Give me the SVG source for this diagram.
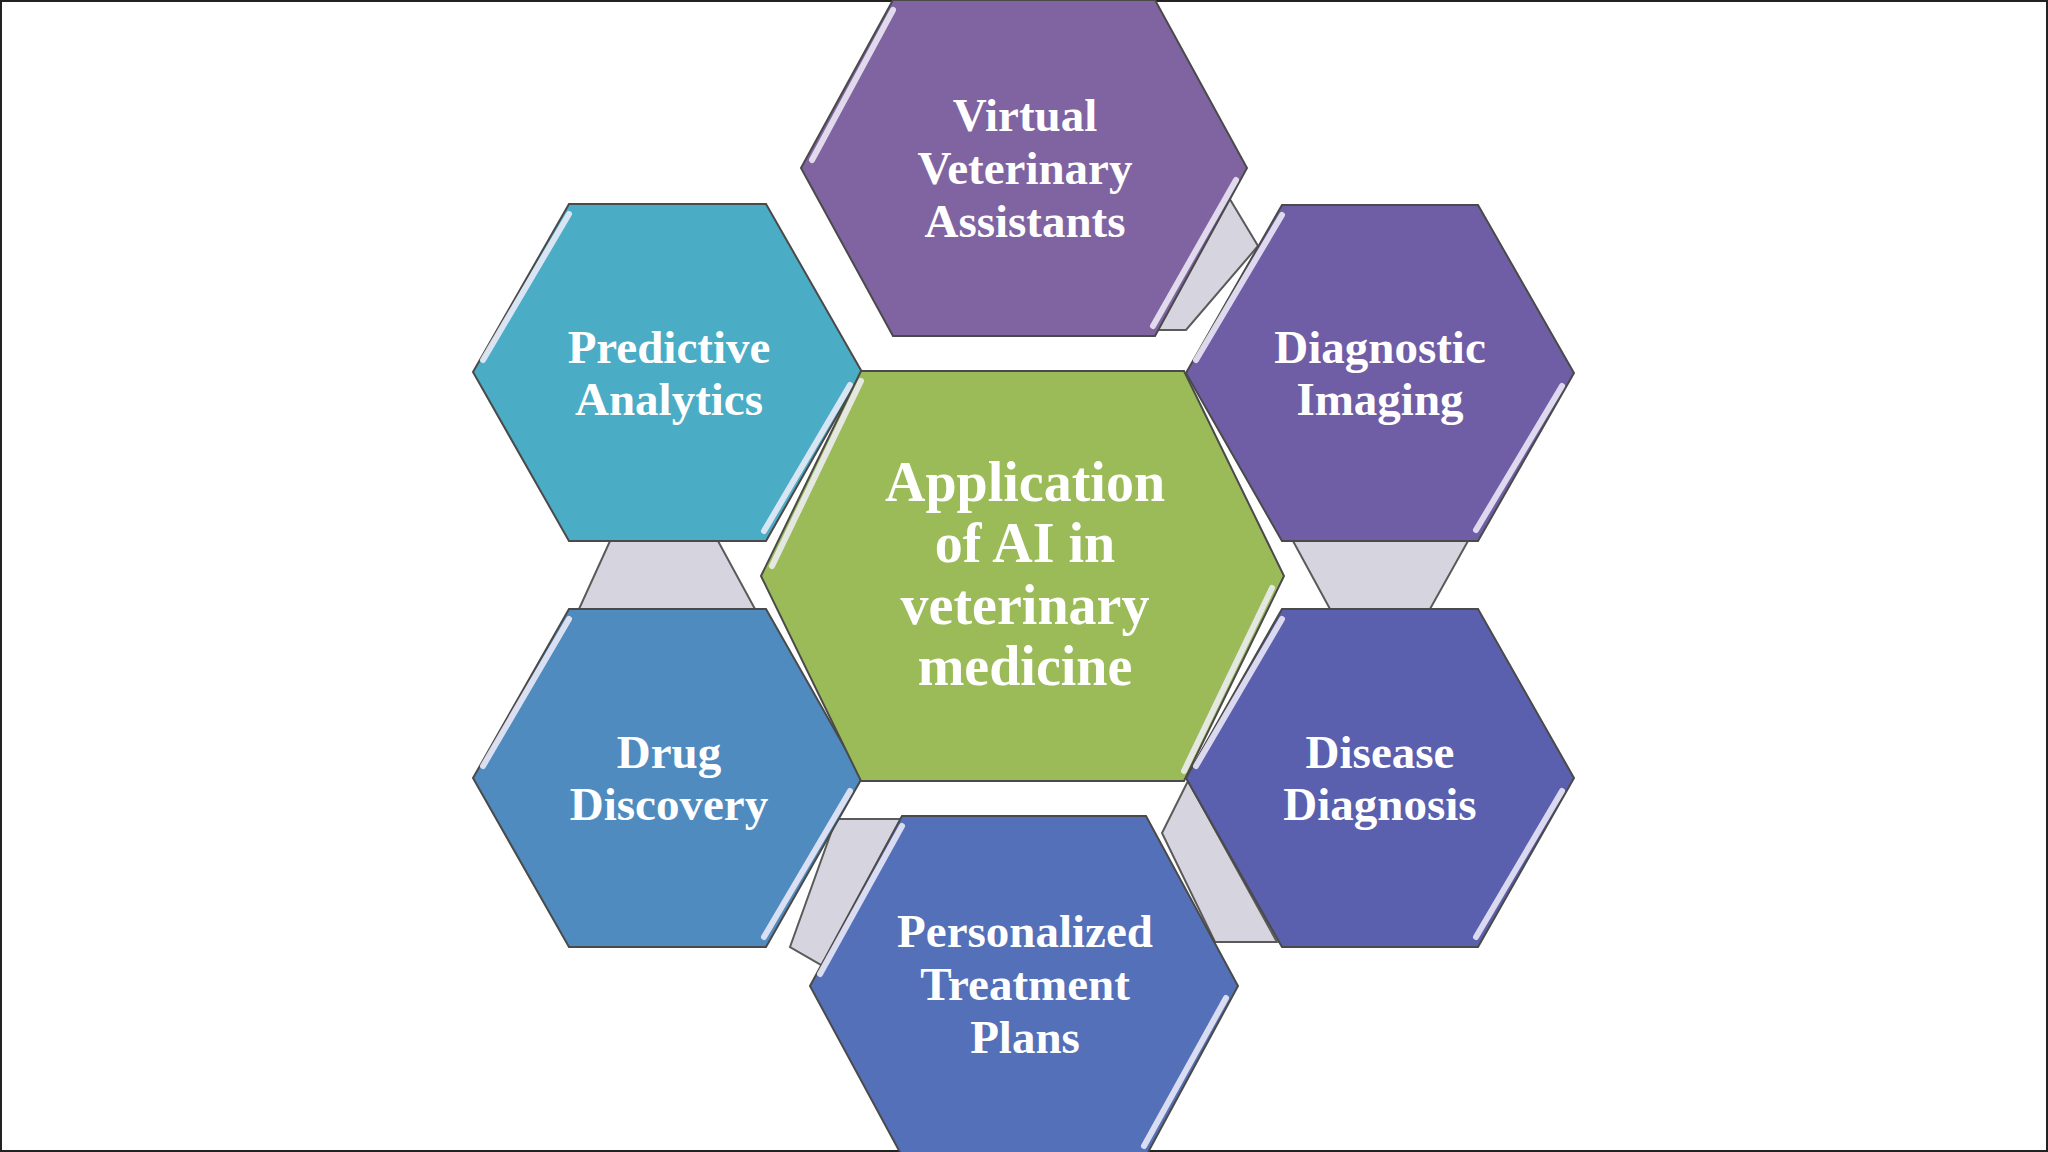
<svg xmlns="http://www.w3.org/2000/svg" width="2048" height="1152" viewBox="0 0 2048 1152">
<style>
.hex{stroke:#4a4a4a;stroke-width:2}
.hl{stroke:#f2eefa;stroke-opacity:0.85;stroke-width:6;stroke-linecap:round;fill:none}
.j{fill:#d6d4de;stroke:#5a5a5a;stroke-width:2}
text{font-family:"Liberation Serif","Times New Roman",serif;font-weight:bold;fill:#fff;text-anchor:middle;font-size:47px}
.c{font-size:56px}
</style>
<rect x="1" y="1" width="2046" height="1150" fill="#fff" stroke="#222" stroke-width="2"/>
<g id="connectors">
<polygon class="j" points="1228,196 1258,246 1186,330 1149,330"/>
<polygon class="j" points="1293,541 1468,541 1430,609 1330,609"/>
<polygon class="j" points="1188,781 1162,833 1215,942 1277,942"/>
<polygon class="j" points="836,819 904,819 823,966 790,947"/>
<polygon class="j" points="610,541 718,541 755,609 579,609"/>
</g>
<g id="virtual">
<polygon class="hex" fill="#8064a2" points="801,168 893,0 1155,0 1247,168 1155,336 893,336"/>
<line class="hl" x1="812" y1="160" x2="893" y2="10"/><line class="hl" x1="1236" y1="180" x2="1153" y2="326"/>
<text x="1025" y="131">Virtual</text><text x="1025" y="184">Veterinary</text><text x="1025" y="237">Assistants</text>
</g>
<g id="diagnostic">
<polygon class="hex" fill="#6f5ea6" points="1186,373 1282,205 1478,205 1574,373 1478,541 1282,541"/>
<line class="hl" x1="1196" y1="360" x2="1282" y2="215"/><line class="hl" x1="1562" y1="386" x2="1476" y2="530"/>
<text x="1380" y="363">Diagnostic</text><text x="1380" y="415">Imaging</text>
</g>
<g id="predictive">
<polygon class="hex" fill="#4bacc6" points="473,372 569,204 766,204 862,372 766,541 569,541"/>
<line class="hl" x1="483" y1="360" x2="569" y2="214"/><line class="hl" x1="850" y1="385" x2="764" y2="531"/>
<text x="669" y="363">Predictive</text><text x="669" y="415">Analytics</text>
</g>
<g id="drug">
<polygon class="hex" fill="#4f8bbf" points="473,778 569,609 766,609 862,778 766,947 569,947"/>
<line class="hl" x1="483" y1="766" x2="569" y2="619"/><line class="hl" x1="850" y1="791" x2="764" y2="937"/>
<text x="669" y="768">Drug</text><text x="669" y="820">Discovery</text>
</g>
<g id="disease">
<polygon class="hex" fill="#5a5fae" points="1186,778 1282,609 1478,609 1574,778 1478,947 1282,947"/>
<line class="hl" x1="1196" y1="766" x2="1282" y2="619"/><line class="hl" x1="1562" y1="791" x2="1476" y2="937"/>
<text x="1380" y="768">Disease</text><text x="1380" y="820">Diagnosis</text>
</g>
<g id="personalized">
<polygon class="hex" fill="#5470b8" points="810,986 902,816 1146,816 1238,986 1146,1156 902,1156"/>
<line class="hl" x1="820" y1="974" x2="902" y2="826"/><line class="hl" x1="1226" y1="998" x2="1144" y2="1146"/>
<text x="1025" y="947">Personalized</text><text x="1025" y="1000">Treatment</text><text x="1025" y="1053">Plans</text>
</g>
<g id="center">
<polygon class="hex" fill="#9bbb59" points="761,576 861,371 1184,371 1284,576 1184,781 861,781"/>
<line class="hl" x1="772" y1="566" x2="861" y2="381"/><line class="hl" x1="1272" y1="588" x2="1184" y2="771"/>
<text class="c" x="1025" y="501">Application</text><text class="c" x="1025" y="562">of AI in</text><text class="c" x="1025" y="624">veterinary</text><text class="c" x="1025" y="685">medicine</text>
</g>
</svg>
